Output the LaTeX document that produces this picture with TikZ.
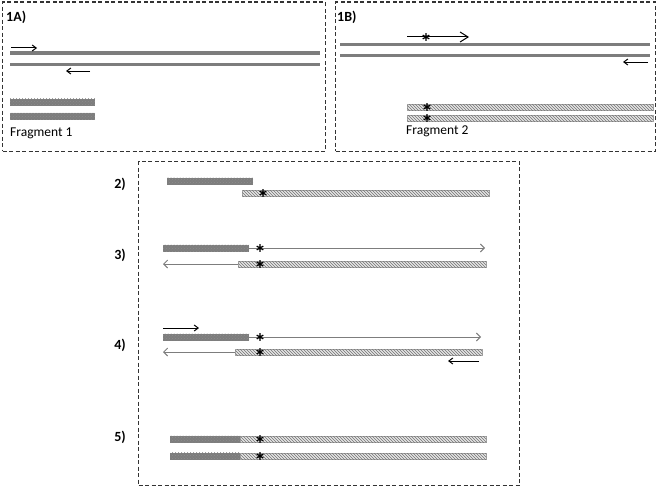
\documentclass[tikz,border=0pt]{standalone}
\usepackage{fontspec}
\setmainfont{Carlito}
\usetikzlibrary{patterns,arrows.meta}
\definecolor{strandgray}{RGB}{125,125,125}
\definecolor{darkfill}{RGB}{125,125,125}
\tikzset{
  box/.style={draw=black!80, line width=1.1pt, dash pattern=on 4pt off 2.5pt},
  strand/.style={draw=strandgray, line width=3pt},
  darkbar/.style={rectangle, inner sep=0pt, minimum height=7pt, anchor=west,
    fill=darkfill, postaction={pattern=crosshatch dots, pattern color=black!45}},
  hatchbar/.style={rectangle, inner sep=0pt, minimum height=6pt, anchor=west,
    draw=black!35, line width=0.5pt, fill=black!10,
    postaction={pattern=north west lines, pattern color=black!55}},
  ext/.style={draw=strandgray, line width=0.9pt, -{Straight Barb[length=4pt,width=8pt]}},
  primer/.style={draw=black, line width=1pt, -{Straight Barb[length=4pt,width=6pt]}},
  bigprimer/.style={draw=black, line width=1pt, -{Straight Barb[length=8pt,width=10pt]}},
  lbl/.style={font=\fontsize{14}{16}\selectfont\bfseries, inner sep=0pt},
  fraglbl/.style={font=\fontsize{13.5}{16}\selectfont, inner sep=0pt, anchor=west},
  astk/.pic={\draw[line width=1.2pt, black] (90:3.8)--(270:3.8) (30:3.8)--(210:3.8) (150:3.8)--(330:3.8);}
}
\begin{document}
\begin{tikzpicture}[x=1pt,y=-1pt]
\useasboundingbox (0,0) rectangle (660,487);
% boxes
\node[box, rectangle, inner sep=0pt, minimum width=323pt, minimum height=149pt, anchor=north west] (boxA) at (2,1.5) {};
\node[box, rectangle, inner sep=0pt, minimum width=320pt, minimum height=149pt, anchor=north west] (boxB) at (335,1.5) {};
\node[box, rectangle, inner sep=0pt, minimum width=381pt, minimum height=324pt, anchor=north west] (boxC) at (138,161) {};

% ---- 1A ----
\node[lbl, anchor=west] (labA) at (6,17) {1A)};
\coordinate (a1s) at (10,53); \coordinate (a1e) at (320,53);
\coordinate (a2s) at (10,64); \coordinate (a2e) at (320,64);
\draw[strand] (a1s) -- (a1e);
\draw[strand] (a2s) -- (a2e);
\coordinate (pa1) at (11,48); \coordinate (pa1e) at (37,48);
\draw[primer] (pa1) -- (pa1e);
\coordinate (pa2) at (90,71); \coordinate (pa2e) at (66,71);
\draw[primer] (pa2) -- (pa2e);
\node[darkbar, minimum width=85pt] (fa1) at (10,102) {};
\node[darkbar, minimum width=85pt] (fa2) at (10,116) {};
\node[fraglbl] (fragA) at (10,133.5) {Fragment 1};

% ---- 1B ----
\node[lbl, anchor=west] (labB) at (337,17) {1B)};
\coordinate (b1s) at (340,45); \coordinate (b1e) at (650,45);
\coordinate (b2s) at (340,55); \coordinate (b2e) at (650,55);
\draw[strand] (b1s) -- (b1e);
\draw[strand] (b2s) -- (b2e);
\coordinate (pb1) at (407,37); \coordinate (pb1e) at (469,37);
\draw[bigprimer] (pb1) -- (pb1e);
\pic at (426,37) {astk};
\coordinate (pb2) at (648,62); \coordinate (pb2e) at (623,62);
\draw[primer] (pb2) -- (pb2e);
\node[hatchbar, minimum width=246pt] (fb1) at (407,107) {};
\node[hatchbar, minimum width=246pt] (fb2) at (407,118) {};
\pic at (427,107) {astk};
\pic at (427,118) {astk};
\node[fraglbl] (fragB) at (406,131.5) {Fragment 2};

% ---- 2) ----
\node[lbl] (l2) at (120,184) {2)};
\node[darkbar, minimum width=86pt] (s2a) at (167,181) {};
\node[hatchbar, minimum width=247pt] (s2b) at (242,193) {};
\pic at (263,193) {astk};

% ---- 3) ----
\node[lbl] (l3) at (120,255) {3)};
\node[darkbar, minimum width=86pt] (s3a) at (163,248) {};
\coordinate (s3ae) at (485,248);
\draw[ext] (s3a.east) -- (s3ae);
\pic at (260,248) {astk};
\node[hatchbar, minimum width=248pt] (s3b) at (238,264) {};
\coordinate (s3be) at (163,264);
\draw[ext] (s3b.west) -- (s3be);
\pic at (260,264) {astk};

% ---- 4) ----
\node[lbl] (l4) at (120,345) {4)};
\coordinate (p41) at (163,328); \coordinate (p41e) at (199,328);
\draw[primer] (p41) -- (p41e);
\node[darkbar, minimum width=86pt] (s4a) at (163,337) {};
\coordinate (s4ae) at (481,337);
\draw[ext] (s4a.east) -- (s4ae);
\pic at (260,337) {astk};
\node[hatchbar, minimum width=247pt] (s4b) at (235,352) {};
\coordinate (s4be) at (163,352);
\draw[ext] (s4b.west) -- (s4be);
\pic at (260,352) {astk};
\coordinate (p42) at (479,361); \coordinate (p42e) at (448,361);
\draw[primer] (p42) -- (p42e);

% ---- 5) ----
\node[lbl] (l5) at (120,437) {5)};
\node[hatchbar, minimum width=246pt, minimum height=6pt] (s5b1) at (240,439) {};
\node[darkbar, minimum width=70pt] (s5a1) at (170,439) {};
\pic at (260,439) {astk};
\node[hatchbar, minimum width=246pt, minimum height=6pt] (s5b2) at (240,456) {};
\node[darkbar, minimum width=70pt] (s5a2) at (170,456) {};
\pic at (260,456) {astk};
\end{tikzpicture}
\end{document}
